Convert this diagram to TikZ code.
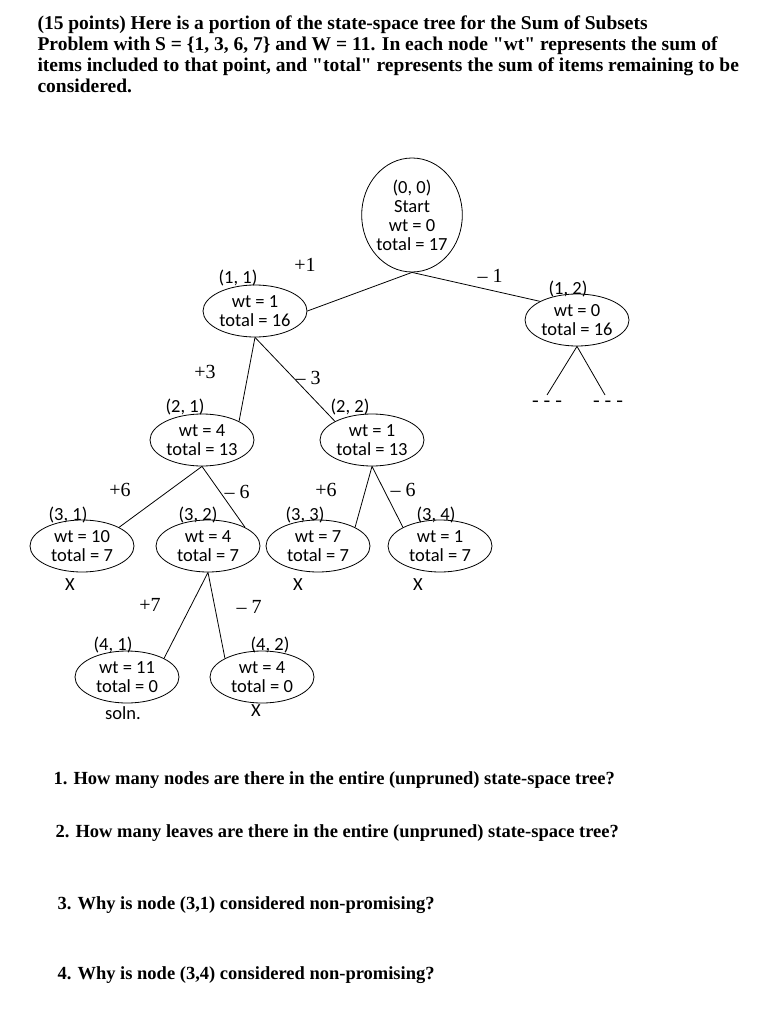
\documentclass[tikz,border=0pt]{standalone}
\usepackage{fontspec}
\setmainfont{Liberation Serif}[Ligatures=TeXOff]
\newfontfamily\carlitofam{Carlito}
\usetikzlibrary{shapes.geometric}
\tikzset{
 st/.style={ellipse,draw,thick,minimum width=104pt,minimum height=52pt,inner sep=0pt,align=center,font=\carlitofam\fontsize{18.5}{19}\selectfont},
 lab/.style={font=\carlitofam\fontsize{18.5}{19}\selectfont},
 hand/.style={font=\fontsize{20}{20}\selectfont},
 ed/.style={thick},
 q/.style={anchor=west,font=\bfseries\fontsize{18.5}{20}\selectfont}
}
\begin{document}
\begin{tikzpicture}[x=1pt,y=-1pt]
\useasboundingbox[fill=white] (0,0) rectangle (761,1024);
\node[anchor=north west,align=left,font=\bfseries\fontsize{19.5}{21}\selectfont] (hdr) at (34,12)
 {(15 points) Here is a portion of the state-space tree for the Sum of Subsets\\Problem with S = \{1, 3, 6, 7\} and W = 11. In each node "wt" represents the sum of\\items included to that point, and "total" represents the sum of items remaining to be\\considered.};
% nodes
\node[st,minimum width=94pt,minimum height=114pt] (r) at (412,215) {(0, 0)\\Start\\wt = 0\\total = 17};
\node[st] (a) at (255,311) {wt = 1\\total = 16};
\node[lab] (la) at (238,278) {(1, 1)};
\node[st] (b) at (577,320) {wt = 0\\total = 16};
\node[lab] (lb) at (568,289) {(1, 2)};
\node[st] (c) at (202,440) {wt = 4\\total = 13};
\node[lab] (lc) at (185,407) {(2, 1)};
\node[st] (d) at (372,440) {wt = 1\\total = 13};
\node[lab] (ld) at (350,407) {(2, 2)};
\node[st] (e) at (82,546) {wt = 10\\total = 7};
\node[lab] (le) at (68,515) {(3, 1)};
\node[st] (f) at (208,546) {wt = 4\\total = 7};
\node[lab] (lf) at (198,515) {(3, 2)};
\node[st] (g) at (318,546) {wt = 7\\total = 7};
\node[lab] (lg) at (305,515) {(3, 3)};
\node[st] (h) at (440,546) {wt = 1\\total = 7};
\node[lab] (lh) at (436,515) {(3, 4)};
\node[st] (i) at (127,677) {wt = 11\\total = 0};
\node[lab] (li) at (113,645) {(4, 1)};
\node[st] (j) at (262,677) {wt = 4\\total = 0};
\node[lab] (lj) at (270,645) {(4, 2)};
% marks
\node[lab] (xe) at (70,585) {X};
\node[lab] (xg) at (298,585) {X};
\node[lab] (xh) at (418,585) {X};
\node[lab] (xj) at (256,711) {X};
\node[lab] (so) at (123,713) {soln.};
% edges
\draw[ed] (r.south) -- (a.east);
\draw[ed] (r.south) -- (b.north west);
\draw[ed] (a.south) -- (c.north east);
\draw[ed] (a.south) -- (d.north west);
\draw[ed] (c.south) -- (e.north east);
\draw[ed] (c.south) -- (f.north east);
\draw[ed] (d.south) -- (g.north east);
\draw[ed] (d.south) -- (h.north west);
\draw[ed] (f.south) -- (i.north east);
\draw[ed] (f.south) -- (j.north west);
\coordinate (bl) at (547,395);
\coordinate (br) at (605,395);
\draw[ed] (b.south) -- (bl);
\draw[ed] (b.south) -- (br);
\node[hand] (dl) at (547,404) {- - -};
\node[hand] (dr) at (608,404) {- - -};
% edge labels
\node[hand] at (305,265) {+1};
\node[hand] at (490,276) {– 1};
\node[hand] at (205,372) {+3};
\node[hand] at (308,378) {– 3};
\node[hand] at (120,490) {+6};
\node[hand] at (237,492) {– 6};
\node[hand] at (326,490) {+6};
\node[hand] at (403,490) {– 6};
\node[hand] at (150,605) {+7};
\node[hand] at (249,607) {– 7};
% questions
\node[q] (q1) at (50,780) {1. How many nodes are there in the entire (unpruned) state-space tree?};
\node[q] (q2) at (52,833) {2. How many leaves are there in the entire (unpruned) state-space tree?};
\node[q] (q3) at (54,905) {3. Why is node (3,1) considered non-promising?};
\node[q] (q4) at (54,975) {4. Why is node (3,4) considered non-promising?};
\end{tikzpicture}
\end{document}
